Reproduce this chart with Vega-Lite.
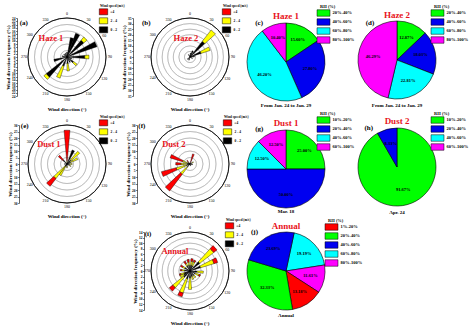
{
"$schema": "https://vega.github.io/schema/vega-lite/v6.json",
"background": "white",
"padding": {"left": 5, "top": 4, "right": 0, "bottom": 0},
"columns": 4,
"spacing": {"row": 19, "column": 45},
"bounds": "flush",
"resolve": {"scale": {"y": "independent", "theta": "independent", "radius": "independent", "fill": "independent"}, "legend": {"fill": "independent"}, "axis": {"y": "independent"}},
"datasets": {
 "dirs": [{"a":0,"t":"0"},{"a":30,"t":"30"},{"a":60,"t":"60"},{"a":90,"t":"90"},{"a":120,"t":"120"},{"a":150,"t":"150"},{"a":180,"t":"180"},{"a":210,"t":"210"},{"a":240,"t":"240"},{"a":270,"t":"270"},{"a":300,"t":"300"},{"a":330,"t":"330"}],
 "ws_a": [
  {"d0":10,"d1":20,"lo":0,"hi":12,"s":"0 - 2"},
  {"d0":20,"d1":30,"lo":0,"hi":15.5,"s":"0 - 2"},
  {"d0":40,"d1":50,"lo":0,"hi":13.5,"s":"0 - 2"},{"d0":40,"d1":50,"lo":13.5,"hi":16,"s":"2 - 4"},
  {"d0":61,"d1":71,"lo":0,"hi":19.5,"s":"0 - 2"},
  {"d0":85,"d1":95,"lo":0,"hi":11,"s":"0 - 2"},{"d0":85,"d1":95,"lo":11,"hi":13.5,"s":"2 - 4"},
  {"d0":125,"d1":135,"lo":0,"hi":5,"s":"0 - 2"},{"d0":125,"d1":135,"lo":5,"hi":7.6,"s":"2 - 4"},
  {"d0":170,"d1":180,"lo":0,"hi":4,"s":"0 - 2"},{"d0":170,"d1":180,"lo":4,"hi":8.6,"s":"2 - 4"},
  {"d0":198,"d1":208,"lo":0,"hi":6,"s":"0 - 2"},{"d0":198,"d1":208,"lo":6,"hi":13.7,"s":"2 - 4"},
  {"d0":221,"d1":231,"lo":0,"hi":16.5,"s":"0 - 2"},{"d0":221,"d1":231,"lo":16.5,"hi":18.3,"s":"2 - 4"},
  {"d0":250,"d1":260,"lo":0,"hi":8.2,"s":"0 - 2"},
  {"d0":-5,"d1":5,"lo":0,"hi":3,"s":"0 - 2"},
  {"d0":105,"d1":115,"lo":0,"hi":3,"s":"0 - 2"},
  {"d0":145,"d1":155,"lo":0,"hi":3.5,"s":"0 - 2"},
  {"d0":275,"d1":285,"lo":0,"hi":3,"s":"0 - 2"},
  {"d0":305,"d1":315,"lo":0,"hi":2.5,"s":"0 - 2"},
  {"d0":330,"d1":340,"lo":0,"hi":2.5,"s":"0 - 2"}
 ],
 "ws_b": [
  {"d0":38,"d1":48,"lo":0,"hi":18,"s":"0 - 2"},{"d0":38,"d1":48,"lo":18,"hi":30.8,"s":"2 - 4"},
  {"d0":62,"d1":72,"lo":0,"hi":10.5,"s":"0 - 2"},{"d0":62,"d1":72,"lo":10.5,"hi":19,"s":"2 - 4"},
  {"d0":20,"d1":30,"lo":0,"hi":6,"s":"0 - 2"},
  {"d0":80,"d1":90,"lo":0,"hi":4,"s":"0 - 2"},
  {"d0":5,"d1":15,"lo":0,"hi":3.5,"s":"0 - 2"},
  {"d0":195,"d1":205,"lo":0,"hi":3,"s":"0 - 2"},
  {"d0":225,"d1":235,"lo":0,"hi":3,"s":"0 - 2"},
  {"d0":115,"d1":125,"lo":0,"hi":2.5,"s":"0 - 2"},
  {"d0":325,"d1":335,"lo":0,"hi":2.5,"s":"0 - 2"}
 ],
 "ws_e": [
  {"d0":-5,"d1":5,"lo":0,"hi":1,"s":"0 - 2"},{"d0":-5,"d1":5,"lo":1,"hi":2.5,"s":"2 - 4"},{"d0":-5,"d1":5,"lo":2.5,"hi":26,"s":"≥4"},
  {"d0":20,"d1":30,"lo":0,"hi":11.5,"s":"0 - 2"},
  {"d0":40,"d1":50,"lo":0,"hi":4,"s":"0 - 2"},{"d0":40,"d1":50,"lo":4,"hi":12.8,"s":"2 - 4"},
  {"d0":58,"d1":68,"lo":0,"hi":3,"s":"0 - 2"},{"d0":58,"d1":68,"lo":3,"hi":9,"s":"2 - 4"},
  {"d0":207,"d1":217,"lo":0,"hi":2,"s":"0 - 2"},{"d0":207,"d1":217,"lo":2,"hi":10,"s":"2 - 4"},
  {"d0":217,"d1":227,"lo":0,"hi":2,"s":"0 - 2"},{"d0":217,"d1":227,"lo":2,"hi":14,"s":"2 - 4"},{"d0":217,"d1":227,"lo":14,"hi":21.5,"s":"≥4"},
  {"d0":310,"d1":320,"lo":0,"hi":4,"s":"0 - 2"},{"d0":310,"d1":320,"lo":4,"hi":8.7,"s":"≥4"},
  {"d0":85,"d1":95,"lo":0,"hi":2,"s":"0 - 2"},{"d0":85,"d1":95,"lo":2,"hi":4,"s":"2 - 4"},
  {"d0":115,"d1":125,"lo":0,"hi":1.5,"s":"0 - 2"},{"d0":115,"d1":125,"lo":1.5,"hi":3.5,"s":"2 - 4"},
  {"d0":265,"d1":275,"lo":0,"hi":2,"s":"0 - 2"},
  {"d0":175,"d1":185,"lo":0,"hi":2,"s":"0 - 2"},{"d0":175,"d1":185,"lo":2,"hi":3,"s":"2 - 4"}
 ],
 "ws_f": [
  {"d0":245,"d1":255,"lo":0,"hi":3,"s":"0 - 2"},{"d0":245,"d1":255,"lo":3,"hi":11,"s":"2 - 4"},{"d0":245,"d1":255,"lo":11,"hi":22.8,"s":"≥4"},
  {"d0":217,"d1":227,"lo":0,"hi":3,"s":"0 - 2"},{"d0":217,"d1":227,"lo":3,"hi":10,"s":"2 - 4"},{"d0":217,"d1":227,"lo":10,"hi":26,"s":"≥4"},
  {"d0":287,"d1":297,"lo":0,"hi":2,"s":"0 - 2"},{"d0":287,"d1":297,"lo":2,"hi":6,"s":"2 - 4"},{"d0":287,"d1":297,"lo":6,"hi":16,"s":"≥4"},
  {"d0":266,"d1":276,"lo":0,"hi":2,"s":"0 - 2"},{"d0":266,"d1":276,"lo":2,"hi":7,"s":"2 - 4"},{"d0":266,"d1":276,"lo":7,"hi":11,"s":"≥4"},
  {"d0":14,"d1":24,"lo":0,"hi":1,"s":"0 - 2"},{"d0":14,"d1":24,"lo":1,"hi":8,"s":"≥4"},
  {"d0":55,"d1":65,"lo":0,"hi":1.5,"s":"0 - 2"},{"d0":55,"d1":65,"lo":1.5,"hi":3,"s":"2 - 4"},
  {"d0":95,"d1":105,"lo":0,"hi":2,"s":"0 - 2"},
  {"d0":155,"d1":165,"lo":0,"hi":1.5,"s":"0 - 2"},
  {"d0":315,"d1":325,"lo":0,"hi":1.5,"s":"0 - 2"},{"d0":315,"d1":325,"lo":1.5,"hi":3.5,"s":"≥4"}
 ],
 "ws_i": [
  {"d0":42,"d1":52,"lo":0,"hi":4.5,"s":"0 - 2"},{"d0":42,"d1":52,"lo":4.5,"hi":10.8,"s":"2 - 4"},{"d0":42,"d1":52,"lo":10.8,"hi":12.3,"s":"≥4"},
  {"d0":63,"d1":73,"lo":0,"hi":4,"s":"0 - 2"},{"d0":63,"d1":73,"lo":4,"hi":9,"s":"2 - 4"},{"d0":63,"d1":73,"lo":9,"hi":10.4,"s":"≥4"},
  {"d0":221,"d1":231,"lo":0,"hi":3,"s":"0 - 2"},{"d0":221,"d1":231,"lo":3,"hi":8,"s":"2 - 4"},{"d0":221,"d1":231,"lo":8,"hi":9.6,"s":"≥4"},
  {"d0":197,"d1":207,"lo":0,"hi":3,"s":"0 - 2"},{"d0":197,"d1":207,"lo":3,"hi":8.3,"s":"2 - 4"},{"d0":197,"d1":207,"lo":8.3,"hi":9.7,"s":"≥4"},
  {"d0":175,"d1":185,"lo":0,"hi":2.5,"s":"0 - 2"},{"d0":175,"d1":185,"lo":2.5,"hi":6.6,"s":"2 - 4"},
  {"d0":90,"d1":100,"lo":0,"hi":2.5,"s":"0 - 2"},{"d0":90,"d1":100,"lo":2.5,"hi":4.8,"s":"2 - 4"},
  {"d0":110,"d1":120,"lo":0,"hi":2,"s":"0 - 2"},{"d0":110,"d1":120,"lo":2,"hi":3.5,"s":"2 - 4"},{"d0":110,"d1":120,"lo":3.5,"hi":4,"s":"≥4"},
  {"d0":135,"d1":145,"lo":0,"hi":2,"s":"0 - 2"},{"d0":135,"d1":145,"lo":2,"hi":3,"s":"2 - 4"},
  {"d0":155,"d1":165,"lo":0,"hi":2,"s":"0 - 2"},{"d0":155,"d1":165,"lo":2,"hi":3.2,"s":"2 - 4"},
  {"d0":245,"d1":255,"lo":0,"hi":2,"s":"0 - 2"},{"d0":245,"d1":255,"lo":2,"hi":3.5,"s":"2 - 4"},{"d0":245,"d1":255,"lo":3.5,"hi":4,"s":"≥4"},
  {"d0":270,"d1":280,"lo":0,"hi":2,"s":"0 - 2"},{"d0":270,"d1":280,"lo":2,"hi":3,"s":"2 - 4"},{"d0":270,"d1":280,"lo":3,"hi":3.5,"s":"≥4"},
  {"d0":295,"d1":305,"lo":0,"hi":2,"s":"0 - 2"},{"d0":295,"d1":305,"lo":2,"hi":3,"s":"2 - 4"},{"d0":295,"d1":305,"lo":3,"hi":3.8,"s":"≥4"},
  {"d0":325,"d1":335,"lo":0,"hi":2,"s":"0 - 2"},{"d0":325,"d1":335,"lo":2,"hi":3,"s":"2 - 4"},{"d0":325,"d1":335,"lo":3,"hi":4,"s":"≥4"},
  {"d0":345,"d1":355,"lo":0,"hi":2,"s":"0 - 2"},{"d0":345,"d1":355,"lo":2,"hi":3.2,"s":"2 - 4"},{"d0":345,"d1":355,"lo":3.2,"hi":4.2,"s":"≥4"},
  {"d0":5,"d1":15,"lo":0,"hi":2,"s":"0 - 2"},{"d0":5,"d1":15,"lo":2,"hi":3.5,"s":"2 - 4"},{"d0":5,"d1":15,"lo":3.5,"hi":4.5,"s":"≥4"},
  {"d0":20,"d1":30,"lo":0,"hi":2,"s":"0 - 2"},{"d0":20,"d1":30,"lo":2,"hi":3.5,"s":"2 - 4"},{"d0":20,"d1":30,"lo":3.5,"hi":4.2,"s":"≥4"},
  {"d0":235,"d1":245,"lo":0,"hi":2.5,"s":"0 - 2"},{"d0":235,"d1":245,"lo":2.5,"hi":4,"s":"2 - 4"}
 ],
 "rh_c": [{"rh":"20%-40%","pct":15.6,"k":1,"lab":"15.60%"},{"rh":"40%-60%","pct":27.8,"k":2,"lab":"27.80%"},{"rh":"60%-80%","pct":46.2,"k":3,"lab":"46.20%"},{"rh":"80%-100%","pct":10.4,"k":4,"lab":"10.40%"}],
 "rh_d": [{"rh":"20%-40%","pct":12.87,"k":1,"lab":"12.87%"},{"rh":"40%-60%","pct":18.03,"k":2,"lab":"18.03%"},{"rh":"60%-80%","pct":22.81,"k":3,"lab":"22.81%"},{"rh":"80%-100%","pct":46.29,"k":4,"lab":"46.29%"}],
 "rh_g": [{"rh":"10%-20%","pct":25,"k":1,"lab":"25.00%"},{"rh":"20%-40%","pct":50,"k":2,"lab":"50.00%"},{"rh":"40%-60%","pct":12.5,"k":3,"lab":"12.50%"},{"rh":"60%-100%","pct":12.5,"k":4,"lab":"12.50%"}],
 "rh_h": [{"rh":"10%-20%","pct":91.67,"k":1,"lab":"91.67%"},{"rh":"20%-40%","pct":8.33,"k":2,"lab":"8.33%"}],
 "rh_j": [{"rh":"60%-80%","pct":19.19,"k":1,"lab":"19.19%"},{"rh":"80%-100%","pct":11.61,"k":2,"lab":"11.61%"},{"rh":"1%-20%","pct":13.18,"k":3,"lab":"13.18%"},{"rh":"20%-40%","pct":32.33,"k":4,"lab":"32.33%"},{"rh":"40%-60%","pct":23.69,"k":5,"lab":"23.69%"}]
},
"concat": [
 {"width": 78, "height": 78,
  "title": {"text": "Wind direction (°)", "orient": "bottom", "fontSize": 5, "fontWeight": "bold", "offset": 5},
  "layer": [
   {"data": {"values": [{"v": 0}]}, "mark": {"type": "point", "opacity": 0},
    "encoding": {"y": {"field": "v", "type": "quantitative", "scale": {"domain": [-24, 24], "nice": false, "zero": false},
     "axis": {"values": [-24,-22,-20,-18,-16,-14,-12,-10,-8,-6,-4,-2,0,2,4,6,8,10,12,14,16,18,20,22,24], "labelExpr": "abs(datum.value)", "title": "Wind direction frequency (%)", "offset": 11}}}},
   {"data": {"values": [{"r": 4},{"r": 8},{"r": 12},{"r": 16},{"r": 20}]}, "mark": {"type": "arc", "fillOpacity": 0, "stroke": "#a8a8a8", "strokeWidth": 0.5, "theta": 0, "theta2": 6.2832},
    "encoding": {"radius": {"field": "r", "type": "quantitative", "scale": {"type": "linear", "domain": [0, 24], "range": [0, 39], "nice": false}}, "radius2": {"field": "r"}}},
   {"data": {"name": "ws_a"}, "mark": {"type": "arc", "stroke": "black", "strokeWidth": 0.4},
    "encoding": {"theta": {"field": "d0", "type": "quantitative", "stack": null, "scale": {"domain": [0, 360], "range": [0, 6.2832], "nice": false, "zero": false}}, "theta2": {"field": "d1"},
     "radius": {"field": "hi", "type": "quantitative", "scale": {"type": "linear", "domain": [0, 24], "range": [0, 39], "nice": false}}, "radius2": {"field": "lo"},
     "fill": {"field": "s", "type": "nominal", "scale": {"domain": ["≥4", "2 - 4", "0 - 2"], "range": ["#ff0000", "#ffff00", "#000000"]},
      "legend": {"title": "Wind speed (m/s)", "legendX": 72, "legendY": -14, "symbolType": "M-1.4,-1H1.4V1H-1.4Z", "symbolSize": 36, "labelFontSize": 3.5, "titleFontSize": 3.3, "labelOffset": 3.5}}}},
   {"data": {"values": [{"r": 24}]}, "mark": {"type": "arc", "fillOpacity": 0, "stroke": "black", "strokeWidth": 0.7, "theta": 0, "theta2": 6.2832},
    "encoding": {"radius": {"field": "r", "type": "quantitative"}, "radius2": {"field": "r"}}},
   {"data": {"name": "dirs"}, "mark": {"type": "text", "radiusOffset": 4, "fontSize": 4},
    "encoding": {"theta": {"field": "a", "type": "quantitative", "stack": null}, "radius": {"datum": 24, "type": "quantitative"}, "text": {"field": "t"}}},
   {"data": {"values": [{"t": "Haze 1"}]}, "mark": {"type": "text", "fontSize": 8.5, "fontWeight": "bold", "color": "#e8141c"},
    "encoding": {"theta": {"datum": 320, "type": "quantitative"}, "radius": {"datum": 15.4, "type": "quantitative"}, "text": {"field": "t"}}},
   {"data": {"values": [{"t": "(a)"}]}, "mark": {"type": "text", "fontSize": 7, "fontWeight": "bold"},
    "encoding": {"theta": {"datum": 308, "type": "quantitative"}, "radius": {"datum": 33.8, "type": "quantitative"}, "text": {"field": "t"}}}
  ]},
 {"width": 78, "height": 78,
  "title": {"text": "Wind direction (°)", "orient": "bottom", "fontSize": 5, "fontWeight": "bold", "offset": 5},
  "layer": [
   {"data": {"values": [{"v": 0}]}, "mark": {"type": "point", "opacity": 0},
    "encoding": {"y": {"field": "v", "type": "quantitative", "scale": {"domain": [-35, 35], "nice": false, "zero": false},
     "axis": {"values": [-35,-30,-25,-20,-15,-10,-5,0,5,10,15,20,25,30,35], "labelExpr": "abs(datum.value)", "title": "Wind direction frequency (%)", "offset": 18}}}},
   {"data": {"values": [{"r": 5},{"r": 10},{"r": 15},{"r": 20},{"r": 25},{"r": 30}]}, "mark": {"type": "arc", "fillOpacity": 0, "stroke": "#a8a8a8", "strokeWidth": 0.5, "theta": 0, "theta2": 6.2832},
    "encoding": {"radius": {"field": "r", "type": "quantitative", "scale": {"type": "linear", "domain": [0, 35], "range": [0, 39], "nice": false}}, "radius2": {"field": "r"}}},
   {"data": {"name": "ws_b"}, "mark": {"type": "arc", "stroke": "black", "strokeWidth": 0.4},
    "encoding": {"theta": {"field": "d0", "type": "quantitative", "stack": null, "scale": {"domain": [0, 360], "range": [0, 6.2832], "nice": false, "zero": false}}, "theta2": {"field": "d1"},
     "radius": {"field": "hi", "type": "quantitative", "scale": {"type": "linear", "domain": [0, 35], "range": [0, 39], "nice": false}}, "radius2": {"field": "lo"},
     "fill": {"field": "s", "type": "nominal", "scale": {"domain": ["≥4", "2 - 4", "0 - 2"], "range": ["#ff0000", "#ffff00", "#000000"]},
      "legend": {"title": "Wind speed (m/s)", "legendX": 72, "legendY": -14, "symbolType": "M-1.4,-1H1.4V1H-1.4Z", "symbolSize": 36, "labelFontSize": 3.5, "titleFontSize": 3.3, "labelOffset": 3.5}}}},
   {"data": {"values": [{"r": 35}]}, "mark": {"type": "arc", "fillOpacity": 0, "stroke": "black", "strokeWidth": 0.7, "theta": 0, "theta2": 6.2832},
    "encoding": {"radius": {"field": "r", "type": "quantitative"}, "radius2": {"field": "r"}}},
   {"data": {"name": "dirs"}, "mark": {"type": "text", "radiusOffset": 4, "fontSize": 4},
    "encoding": {"theta": {"field": "a", "type": "quantitative", "stack": null}, "radius": {"datum": 35, "type": "quantitative"}, "text": {"field": "t"}}},
   {"data": {"values": [{"t": "Haze 2"}]}, "mark": {"type": "text", "fontSize": 8.5, "fontWeight": "bold", "color": "#e8141c"},
    "encoding": {"theta": {"datum": 348, "type": "quantitative"}, "radius": {"datum": 17.4, "type": "quantitative"}, "text": {"field": "t"}}},
   {"data": {"values": [{"t": "(b)"}]}, "mark": {"type": "text", "fontSize": 7, "fontWeight": "bold"},
    "encoding": {"theta": {"datum": 308, "type": "quantitative"}, "radius": {"datum": 49.9, "type": "quantitative"}, "text": {"field": "t"}}}
  ]},
 {"width": 24, "height": 88,
  "data": {"name": "rh_c"},
  "layer": [
   {"mark": {"type": "arc", "outerRadius": 39, "stroke": "black", "strokeWidth": 0.6},
    "encoding": {"theta": {"field": "pct", "type": "quantitative", "stack": true, "scale": {"domain": [0, 100], "range": [0, 6.2832]}}, "order": {"field": "k", "type": "quantitative"},
     "fill": {"field": "rh", "type": "nominal", "scale": {"domain": ["20%-40%","40%-60%","60%-80%","80%-100%"], "range": ["#00ff00","#0000f0","#00ffff","#ff00ff"]},
      "legend": {"title": "RH (%)", "legendX": 46, "legendY": -14, "symbolType": "M-2,-1H2V1H-2Z", "symbolSize": 42, "labelFontSize": 4.5, "titleFontSize": 4.5, "labelOffset": 5.5}}}},
   {"mark": {"type": "text", "radius": 25, "fontSize": 4.5, "fontWeight": "bold"},
    "encoding": {"theta": {"field": "pct", "type": "quantitative", "stack": true}, "order": {"field": "k", "type": "quantitative"}, "detail": {"field": "rh"}, "text": {"field": "lab"}}},
   {"data": {"values": [{"t": "Haze 1"}]}, "mark": {"type": "text", "radius": 46, "fontSize": 9, "fontWeight": "bold", "color": "#e8141c"},
    "encoding": {"theta": {"datum": 0, "type": "quantitative"}, "text": {"field": "t"}}},
   {"data": {"values": [{"t": "From Jan. 24 to Jan. 29"}]}, "mark": {"type": "text", "radius": 43, "fontSize": 5, "fontWeight": "bold"},
    "encoding": {"theta": {"datum": 50, "type": "quantitative"}, "text": {"field": "t"}}},
   {"data": {"values": [{"t": "(c)"}]}, "mark": {"type": "text", "radius": 47, "fontSize": 7, "fontWeight": "bold"},
    "encoding": {"theta": {"datum": 90.3, "type": "quantitative"}, "text": {"field": "t"}}}
  ]},
 {"width": 108, "height": 84,
  "data": {"name": "rh_d"},
  "layer": [
   {"mark": {"type": "arc", "outerRadius": 39, "stroke": "black", "strokeWidth": 0.6},
    "encoding": {"theta": {"field": "pct", "type": "quantitative", "stack": true, "scale": {"domain": [0, 100], "range": [0, 6.2832]}}, "order": {"field": "k", "type": "quantitative"},
     "fill": {"field": "rh", "type": "nominal", "scale": {"domain": ["20%-40%","40%-60%","60%-80%","80%-100%"], "range": ["#00ff00","#0000f0","#00ffff","#ff00ff"]},
      "legend": {"title": "RH (%)", "legendX": 91, "legendY": -14, "symbolType": "M-2,-1H2V1H-2Z", "symbolSize": 42, "labelFontSize": 4.5, "titleFontSize": 4.5, "labelOffset": 5.5}}}},
   {"mark": {"type": "text", "radius": 24, "fontSize": 4.5, "fontWeight": "bold"},
    "encoding": {"theta": {"field": "pct", "type": "quantitative", "stack": true}, "order": {"field": "k", "type": "quantitative"}, "detail": {"field": "rh"}, "text": {"field": "lab"}}},
   {"data": {"values": [{"t": "Haze 2"}]}, "mark": {"type": "text", "radius": 45, "fontSize": 9, "fontWeight": "bold", "color": "#e8141c"},
    "encoding": {"theta": {"datum": 0, "type": "quantitative"}, "text": {"field": "t"}}},
   {"data": {"values": [{"t": "From Jan. 24 to Jan. 29"}]}, "mark": {"type": "text", "radius": 45, "fontSize": 5, "fontWeight": "bold"},
    "encoding": {"theta": {"datum": 50, "type": "quantitative"}, "text": {"field": "t"}}},
   {"data": {"values": [{"t": "(d)"}]}, "mark": {"type": "text", "radius": 46, "fontSize": 7, "fontWeight": "bold"},
    "encoding": {"theta": {"datum": 90, "type": "quantitative"}, "text": {"field": "t"}}}
  ]},
 {"width": 78, "height": 78,
  "title": {"text": "Wind direction (°)", "orient": "bottom", "fontSize": 5, "fontWeight": "bold", "offset": 5},
  "layer": [
   {"data": {"values": [{"v": 0}]}, "mark": {"type": "point", "opacity": 0},
    "encoding": {"y": {"field": "v", "type": "quantitative", "scale": {"domain": [-30, 30], "nice": false, "zero": false},
     "axis": {"values": [-30,-25,-20,-15,-10,-5,0,5,10,15,20,25,30], "labelExpr": "abs(datum.value)", "title": "Wind direction frequency (%)", "offset": 9}}}},
   {"data": {"values": [{"r": 5},{"r": 10},{"r": 15},{"r": 20},{"r": 25}]}, "mark": {"type": "arc", "fillOpacity": 0, "stroke": "#a8a8a8", "strokeWidth": 0.5, "theta": 0, "theta2": 6.2832},
    "encoding": {"radius": {"field": "r", "type": "quantitative", "scale": {"type": "linear", "domain": [0, 30], "range": [0, 39], "nice": false}}, "radius2": {"field": "r"}}},
   {"data": {"name": "ws_e"}, "mark": {"type": "arc", "stroke": "black", "strokeWidth": 0.4},
    "encoding": {"theta": {"field": "d0", "type": "quantitative", "stack": null, "scale": {"domain": [0, 360], "range": [0, 6.2832], "nice": false, "zero": false}}, "theta2": {"field": "d1"},
     "radius": {"field": "hi", "type": "quantitative", "scale": {"type": "linear", "domain": [0, 30], "range": [0, 39], "nice": false}}, "radius2": {"field": "lo"},
     "fill": {"field": "s", "type": "nominal", "scale": {"domain": ["≥4", "2 - 4", "0 - 2"], "range": ["#ff0000", "#ffff00", "#000000"]},
      "legend": {"title": "Wind speed (m/s)", "legendX": 72, "legendY": -10, "symbolType": "M-1.4,-1H1.4V1H-1.4Z", "symbolSize": 36, "labelFontSize": 3.5, "titleFontSize": 3.3, "labelOffset": 3.5}}}},
   {"data": {"values": [{"r": 30}]}, "mark": {"type": "arc", "fillOpacity": 0, "stroke": "black", "strokeWidth": 0.7, "theta": 0, "theta2": 6.2832},
    "encoding": {"radius": {"field": "r", "type": "quantitative"}, "radius2": {"field": "r"}}},
   {"data": {"name": "dirs"}, "mark": {"type": "text", "radiusOffset": 4, "fontSize": 4},
    "encoding": {"theta": {"field": "a", "type": "quantitative", "stack": null}, "radius": {"datum": 30, "type": "quantitative"}, "text": {"field": "t"}}},
   {"data": {"values": [{"t": "Dust 1"}]}, "mark": {"type": "text", "fontSize": 8.5, "fontWeight": "bold", "color": "#e8141c"},
    "encoding": {"theta": {"datum": 318, "type": "quantitative"}, "radius": {"datum": 20.8, "type": "quantitative"}, "text": {"field": "t"}}},
   {"data": {"values": [{"t": "(e)"}]}, "mark": {"type": "text", "fontSize": 7, "fontWeight": "bold"},
    "encoding": {"theta": {"datum": 312, "type": "quantitative"}, "radius": {"datum": 43.8, "type": "quantitative"}, "text": {"field": "t"}}}
  ]},
 {"width": 78, "height": 78,
  "title": {"text": "Wind direction (°)", "orient": "bottom", "fontSize": 5, "fontWeight": "bold", "offset": 5},
  "layer": [
   {"data": {"values": [{"v": 0}]}, "mark": {"type": "point", "opacity": 0},
    "encoding": {"y": {"field": "v", "type": "quantitative", "scale": {"domain": [-30, 30], "nice": false, "zero": false},
     "axis": {"values": [-30,-25,-20,-15,-10,-5,0,5,10,15,20,25,30], "labelExpr": "abs(datum.value)", "title": "Wind direction frequency (%)", "offset": 14}}}},
   {"data": {"values": [{"r": 5},{"r": 10},{"r": 15},{"r": 20},{"r": 25}]}, "mark": {"type": "arc", "fillOpacity": 0, "stroke": "#a8a8a8", "strokeWidth": 0.5, "theta": 0, "theta2": 6.2832},
    "encoding": {"radius": {"field": "r", "type": "quantitative", "scale": {"type": "linear", "domain": [0, 30], "range": [0, 39], "nice": false}}, "radius2": {"field": "r"}}},
   {"data": {"name": "ws_f"}, "mark": {"type": "arc", "stroke": "black", "strokeWidth": 0.4},
    "encoding": {"theta": {"field": "d0", "type": "quantitative", "stack": null, "scale": {"domain": [0, 360], "range": [0, 6.2832], "nice": false, "zero": false}}, "theta2": {"field": "d1"},
     "radius": {"field": "hi", "type": "quantitative", "scale": {"type": "linear", "domain": [0, 30], "range": [0, 39], "nice": false}}, "radius2": {"field": "lo"},
     "fill": {"field": "s", "type": "nominal", "scale": {"domain": ["≥4", "2 - 4", "0 - 2"], "range": ["#ff0000", "#ffff00", "#000000"]},
      "legend": {"title": "Wind speed (m/s)", "legendX": 73, "legendY": -10, "symbolType": "M-1.4,-1H1.4V1H-1.4Z", "symbolSize": 36, "labelFontSize": 3.5, "titleFontSize": 3.3, "labelOffset": 3.5}}}},
   {"data": {"values": [{"r": 30}]}, "mark": {"type": "arc", "fillOpacity": 0, "stroke": "black", "strokeWidth": 0.7, "theta": 0, "theta2": 6.2832},
    "encoding": {"radius": {"field": "r", "type": "quantitative"}, "radius2": {"field": "r"}}},
   {"data": {"name": "dirs"}, "mark": {"type": "text", "radiusOffset": 4, "fontSize": 4},
    "encoding": {"theta": {"field": "a", "type": "quantitative", "stack": null}, "radius": {"datum": 30, "type": "quantitative"}, "text": {"field": "t"}}},
   {"data": {"values": [{"t": "Dust 2"}]}, "mark": {"type": "text", "fontSize": 8.5, "fontWeight": "bold", "color": "#e8141c"},
    "encoding": {"theta": {"datum": 321, "type": "quantitative"}, "radius": {"datum": 19.7, "type": "quantitative"}, "text": {"field": "t"}}},
   {"data": {"values": [{"t": "(f)"}]}, "mark": {"type": "text", "fontSize": 7, "fontWeight": "bold"},
    "encoding": {"theta": {"datum": 308, "type": "quantitative"}, "radius": {"datum": 47, "type": "quantitative"}, "text": {"field": "t"}}}
  ]},
 {"width": 24, "height": 88,
  "data": {"name": "rh_g"},
  "layer": [
   {"mark": {"type": "arc", "outerRadius": 39, "stroke": "black", "strokeWidth": 0.6},
    "encoding": {"theta": {"field": "pct", "type": "quantitative", "stack": true, "scale": {"domain": [0, 100], "range": [0, 6.2832]}}, "order": {"field": "k", "type": "quantitative"},
     "fill": {"field": "rh", "type": "nominal", "scale": {"domain": ["10%-20%","20%-40%","40%-60%","60%-100%"], "range": ["#00ff00","#0000f0","#00ffff","#ff00ff"]},
      "legend": {"title": "RH (%)", "legendX": 46, "legendY": -14, "symbolType": "M-2,-1H2V1H-2Z", "symbolSize": 42, "labelFontSize": 4.5, "titleFontSize": 4.5, "labelOffset": 5.5}}}},
   {"mark": {"type": "text", "radius": 26, "fontSize": 4.5, "fontWeight": "bold"},
    "encoding": {"theta": {"field": "pct", "type": "quantitative", "stack": true}, "order": {"field": "k", "type": "quantitative"}, "detail": {"field": "rh"}, "text": {"field": "lab"}}},
   {"data": {"values": [{"t": "Dust 1"}]}, "mark": {"type": "text", "radius": 46, "fontSize": 9, "fontWeight": "bold", "color": "#e8141c"},
    "encoding": {"theta": {"datum": 0, "type": "quantitative"}, "text": {"field": "t"}}},
   {"data": {"values": [{"t": "Mar. 18"}]}, "mark": {"type": "text", "radius": 42, "fontSize": 5, "fontWeight": "bold"},
    "encoding": {"theta": {"datum": 50, "type": "quantitative"}, "text": {"field": "t"}}},
   {"data": {"values": [{"t": "(g)"}]}, "mark": {"type": "text", "radius": 48, "fontSize": 7, "fontWeight": "bold"},
    "encoding": {"theta": {"datum": 90.6, "type": "quantitative"}, "text": {"field": "t"}}}
  ]},
 {"width": 108, "height": 84,
  "data": {"name": "rh_h"},
  "layer": [
   {"mark": {"type": "arc", "outerRadius": 39, "stroke": "black", "strokeWidth": 0.6},
    "encoding": {"theta": {"field": "pct", "type": "quantitative", "stack": true, "scale": {"domain": [0, 100], "range": [0, 6.2832]}}, "order": {"field": "k", "type": "quantitative"},
     "fill": {"field": "rh", "type": "nominal", "scale": {"domain": ["10%-20%","20%-40%","40%-60%","60%-100%"], "range": ["#00ff00","#0000f0","#00ffff","#ff00ff"]},
      "legend": {"title": "RH (%)", "legendX": 91, "legendY": -14, "symbolType": "M-2,-1H2V1H-2Z", "symbolSize": 42, "labelFontSize": 4.5, "titleFontSize": 4.5, "labelOffset": 5.5}}}},
   {"mark": {"type": "text", "radius": 24, "fontSize": 4.5, "fontWeight": "bold"},
    "encoding": {"theta": {"field": "pct", "type": "quantitative", "stack": true}, "order": {"field": "k", "type": "quantitative"}, "detail": {"field": "rh"}, "text": {"field": "lab"}}},
   {"data": {"values": [{"t": "Dust 2"}]}, "mark": {"type": "text", "radius": 46, "fontSize": 9, "fontWeight": "bold", "color": "#e8141c"},
    "encoding": {"theta": {"datum": 0, "type": "quantitative"}, "text": {"field": "t"}}},
   {"data": {"values": [{"t": "Apr. 24"}]}, "mark": {"type": "text", "radius": 45, "fontSize": 5, "fontWeight": "bold"},
    "encoding": {"theta": {"datum": 50, "type": "quantitative"}, "text": {"field": "t"}}},
   {"data": {"values": [{"t": "(h)"}]}, "mark": {"type": "text", "radius": 48, "fontSize": 7, "fontWeight": "bold"},
    "encoding": {"theta": {"datum": 90, "type": "quantitative"}, "text": {"field": "t"}}}
  ]},
 {"width": 78, "height": 78, "data": {"values": []}, "mark": {"type": "point", "opacity": 0}, "encoding": {}},
 {"width": 78, "height": 78,
  "title": {"text": "Wind direction (°)", "orient": "bottom", "fontSize": 5, "fontWeight": "bold", "offset": 5},
  "layer": [
   {"data": {"values": [{"v": 0}]}, "mark": {"type": "point", "opacity": 0},
    "encoding": {"y": {"field": "v", "type": "quantitative", "scale": {"domain": [-14, 14], "nice": false, "zero": false},
     "axis": {"values": [-14,-12,-10,-8,-6,-4,-2,0,2,4,6,8,10,12,14], "labelExpr": "abs(datum.value)", "title": "Wind direction frequency (%)", "offset": 7}}}},
   {"data": {"values": [{"r": 2},{"r": 4},{"r": 6},{"r": 8},{"r": 10},{"r": 12}]}, "mark": {"type": "arc", "fillOpacity": 0, "stroke": "#a8a8a8", "strokeWidth": 0.5, "theta": 0, "theta2": 6.2832},
    "encoding": {"radius": {"field": "r", "type": "quantitative", "scale": {"type": "linear", "domain": [0, 14], "range": [0, 39], "nice": false}}, "radius2": {"field": "r"}}},
   {"data": {"name": "ws_i"}, "mark": {"type": "arc", "stroke": "black", "strokeWidth": 0.4},
    "encoding": {"theta": {"field": "d0", "type": "quantitative", "stack": null, "scale": {"domain": [0, 360], "range": [0, 6.2832], "nice": false, "zero": false}}, "theta2": {"field": "d1"},
     "radius": {"field": "hi", "type": "quantitative", "scale": {"type": "linear", "domain": [0, 14], "range": [0, 39], "nice": false}}, "radius2": {"field": "lo"},
     "fill": {"field": "s", "type": "nominal", "scale": {"domain": ["≥4", "2 - 4", "0 - 2"], "range": ["#ff0000", "#ffff00", "#000000"]},
      "legend": {"title": "Wind speed (m/s)", "legendX": 75, "legendY": -14, "symbolType": "M-1.4,-1H1.4V1H-1.4Z", "symbolSize": 36, "labelFontSize": 3.5, "titleFontSize": 3.3, "labelOffset": 3.5}}}},
   {"data": {"values": [{"r": 14}]}, "mark": {"type": "arc", "fillOpacity": 0, "stroke": "black", "strokeWidth": 0.7, "theta": 0, "theta2": 6.2832},
    "encoding": {"radius": {"field": "r", "type": "quantitative"}, "radius2": {"field": "r"}}},
   {"data": {"name": "dirs"}, "mark": {"type": "text", "radiusOffset": 4, "fontSize": 4},
    "encoding": {"theta": {"field": "a", "type": "quantitative", "stack": null}, "radius": {"datum": 14, "type": "quantitative"}, "text": {"field": "t"}}},
   {"data": {"values": [{"t": "Annual"}]}, "mark": {"type": "text", "fontSize": 8.5, "fontWeight": "bold", "color": "#e8141c"},
    "encoding": {"theta": {"datum": 323, "type": "quantitative"}, "radius": {"datum": 9, "type": "quantitative"}, "text": {"field": "t"}}},
   {"data": {"values": [{"t": "(i)"}]}, "mark": {"type": "text", "fontSize": 7, "fontWeight": "bold"},
    "encoding": {"theta": {"datum": 311, "type": "quantitative"}, "radius": {"datum": 20, "type": "quantitative"}, "text": {"field": "t"}}}
  ]},
 {"width": 24, "height": 78,
  "data": {"name": "rh_j"},
  "layer": [
   {"mark": {"type": "arc", "outerRadius": 39, "stroke": "black", "strokeWidth": 0.6},
    "encoding": {"theta": {"field": "pct", "type": "quantitative", "stack": true, "scale": {"domain": [0, 100], "range": [0.21, 6.4932]}}, "order": {"field": "k", "type": "quantitative"},
     "fill": {"field": "rh", "type": "nominal", "scale": {"domain": ["1%-20%","20%-40%","40%-60%","60%-80%","80%-100%"], "range": ["#ff0000","#00ff00","#0000f0","#00ffff","#ff00ff"]},
      "legend": {"title": "RH (%)", "legendX": 54, "legendY": -14, "symbolType": "M-2,-1H2V1H-2Z", "symbolSize": 42, "labelFontSize": 4.5, "titleFontSize": 4.5, "labelOffset": 5.5}}}},
   {"mark": {"type": "text", "radius": 25, "fontSize": 4.5, "fontWeight": "bold"},
    "encoding": {"theta": {"field": "pct", "type": "quantitative", "stack": true}, "order": {"field": "k", "type": "quantitative"}, "detail": {"field": "rh"}, "text": {"field": "lab"}}},
   {"data": {"values": [{"t": "Annual"}]}, "mark": {"type": "text", "radius": 45, "fontSize": 9, "fontWeight": "bold", "color": "#e8141c"},
    "encoding": {"theta": {"datum": -3.34, "type": "quantitative"}, "text": {"field": "t"}}},
   {"data": {"values": [{"t": "Annual"}]}, "mark": {"type": "text", "radius": 44, "fontSize": 5, "fontWeight": "bold"},
    "encoding": {"theta": {"datum": 46.66, "type": "quantitative"}, "text": {"field": "t"}}},
   {"data": {"values": [{"t": "(j)"}]}, "mark": {"type": "text", "radius": 50, "fontSize": 7, "fontWeight": "bold"},
    "encoding": {"theta": {"datum": 85.8, "type": "quantitative"}, "text": {"field": "t"}}}
  ]}
],
"config": {
 "view": {"stroke": null},
 "font": "Liberation Serif",
 "text": {"font": "Liberation Serif", "color": "black"},
 "title": {"font": "Liberation Serif", "color": "black"},
 "axisY": {"grid": false, "tickSize": 1.5, "tickWidth": 0.5, "domainWidth": 0.6, "domainColor": "black", "tickColor": "black", "labelFontSize": 3.5, "labelPadding": 0.5, "labelColor": "black", "labelFont": "Liberation Serif", "labelFontWeight": "bold", "titleFontSize": 5, "titleFontWeight": "bold", "titleColor": "black", "titleFont": "Liberation Serif", "titlePadding": 1.5, "labelOverlap": false, "labelFlush": false},
 "legend": {"orient": "none", "titleFont": "Liberation Serif", "labelFont": "Liberation Serif", "titleFontWeight": "bold", "labelFontWeight": "bold", "titleColor": "black", "labelColor": "black", "padding": 0, "rowPadding": 0, "titlePadding": 1, "symbolStrokeColor": "black", "symbolStrokeWidth": 0.5, "symbolOpacity": 1}
}
}
